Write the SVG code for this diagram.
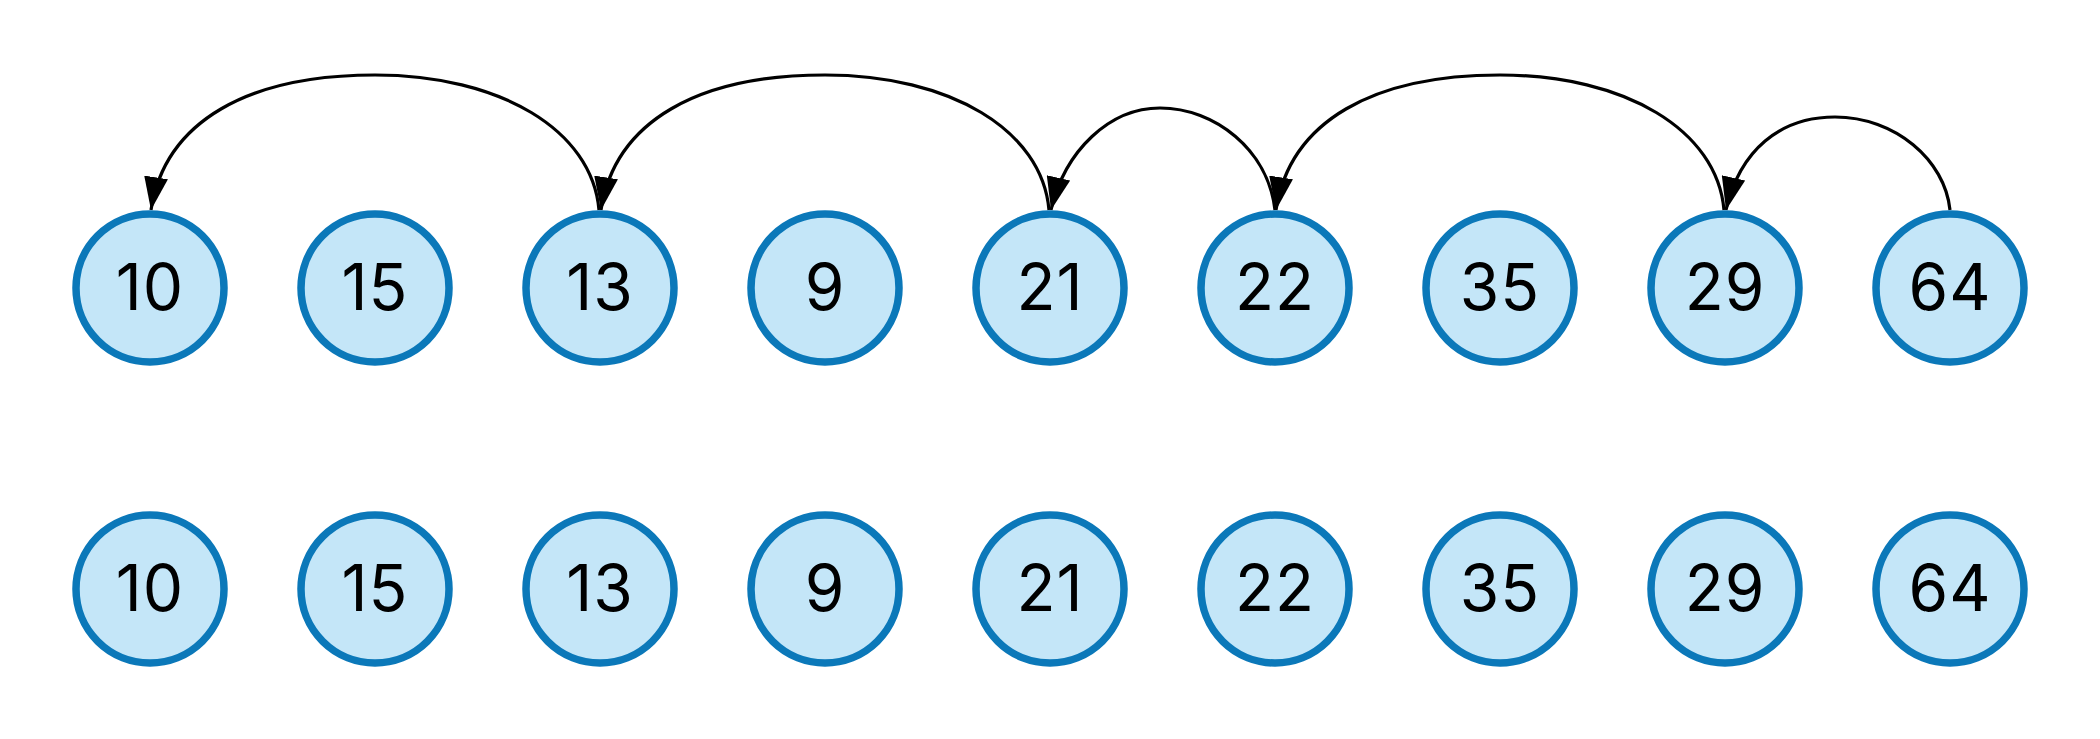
<svg xmlns="http://www.w3.org/2000/svg" width="2100" height="739" viewBox="0 0 2100 739">
<style>
.node circle{fill:#C4E6F8;stroke:#0B78B9;stroke-width:7.5}
.node text{font-family:Inter,"Noto Sans",sans-serif;font-size:64px;fill:#000;text-anchor:middle;letter-spacing:1px}
.edge{fill:none;stroke:#000;stroke-width:3.2;marker-end:url(#ah)}
</style>
<defs>
<marker id="ah" markerUnits="userSpaceOnUse" markerWidth="34" markerHeight="24" viewBox="0 0 34 24" refX="33" refY="12" orient="auto">
<path d="M0,0 L33,12 L0,24 z" fill="#000"/>
</marker>
</defs>
<rect width="2100" height="739" fill="#fff"/>
<g id="connectors">
<path class="edge" d="M599 210 C592 130 500 75 375 75 C250 75 165 120 151 210"/>
<path class="edge" d="M1049 210 C1042 130 950 75 825 75 C700 75 615 120 601 210"/>
<path class="edge" d="M1275 210 C1268 150 1215 108 1160 108 C1110 108 1065 150 1051 210"/>
<path class="edge" d="M1724 210 C1717 130 1625 75 1500 75 C1375 75 1290 120 1276 210"/>
<path class="edge" d="M1950 210 C1945 160 1895 117 1835 117 C1780 117 1740 150 1726 210"/>
</g>
<g id="t0" class="node"><circle cx="150" cy="288" r="74"/><text x="150" y="310">10</text></g>
<g id="t1" class="node"><circle cx="375" cy="288" r="74"/><text x="375" y="310">15</text></g>
<g id="t2" class="node"><circle cx="600" cy="288" r="74"/><text x="600" y="310">13</text></g>
<g id="t3" class="node"><circle cx="825" cy="288" r="74"/><text x="825" y="310">9</text></g>
<g id="t4" class="node"><circle cx="1050" cy="288" r="74"/><text x="1050" y="310">21</text></g>
<g id="t5" class="node"><circle cx="1275" cy="288" r="74"/><text x="1275" y="310">22</text></g>
<g id="t6" class="node"><circle cx="1500" cy="288" r="74"/><text x="1500" y="310">35</text></g>
<g id="t7" class="node"><circle cx="1725" cy="288" r="74"/><text x="1725" y="310">29</text></g>
<g id="t8" class="node"><circle cx="1950" cy="288" r="74"/><text x="1950" y="310">64</text></g>
<g id="b0" class="node"><circle cx="150" cy="589" r="74"/><text x="150" y="611">10</text></g>
<g id="b1" class="node"><circle cx="375" cy="589" r="74"/><text x="375" y="611">15</text></g>
<g id="b2" class="node"><circle cx="600" cy="589" r="74"/><text x="600" y="611">13</text></g>
<g id="b3" class="node"><circle cx="825" cy="589" r="74"/><text x="825" y="611">9</text></g>
<g id="b4" class="node"><circle cx="1050" cy="589" r="74"/><text x="1050" y="611">21</text></g>
<g id="b5" class="node"><circle cx="1275" cy="589" r="74"/><text x="1275" y="611">22</text></g>
<g id="b6" class="node"><circle cx="1500" cy="589" r="74"/><text x="1500" y="611">35</text></g>
<g id="b7" class="node"><circle cx="1725" cy="589" r="74"/><text x="1725" y="611">29</text></g>
<g id="b8" class="node"><circle cx="1950" cy="589" r="74"/><text x="1950" y="611">64</text></g>
</svg>
